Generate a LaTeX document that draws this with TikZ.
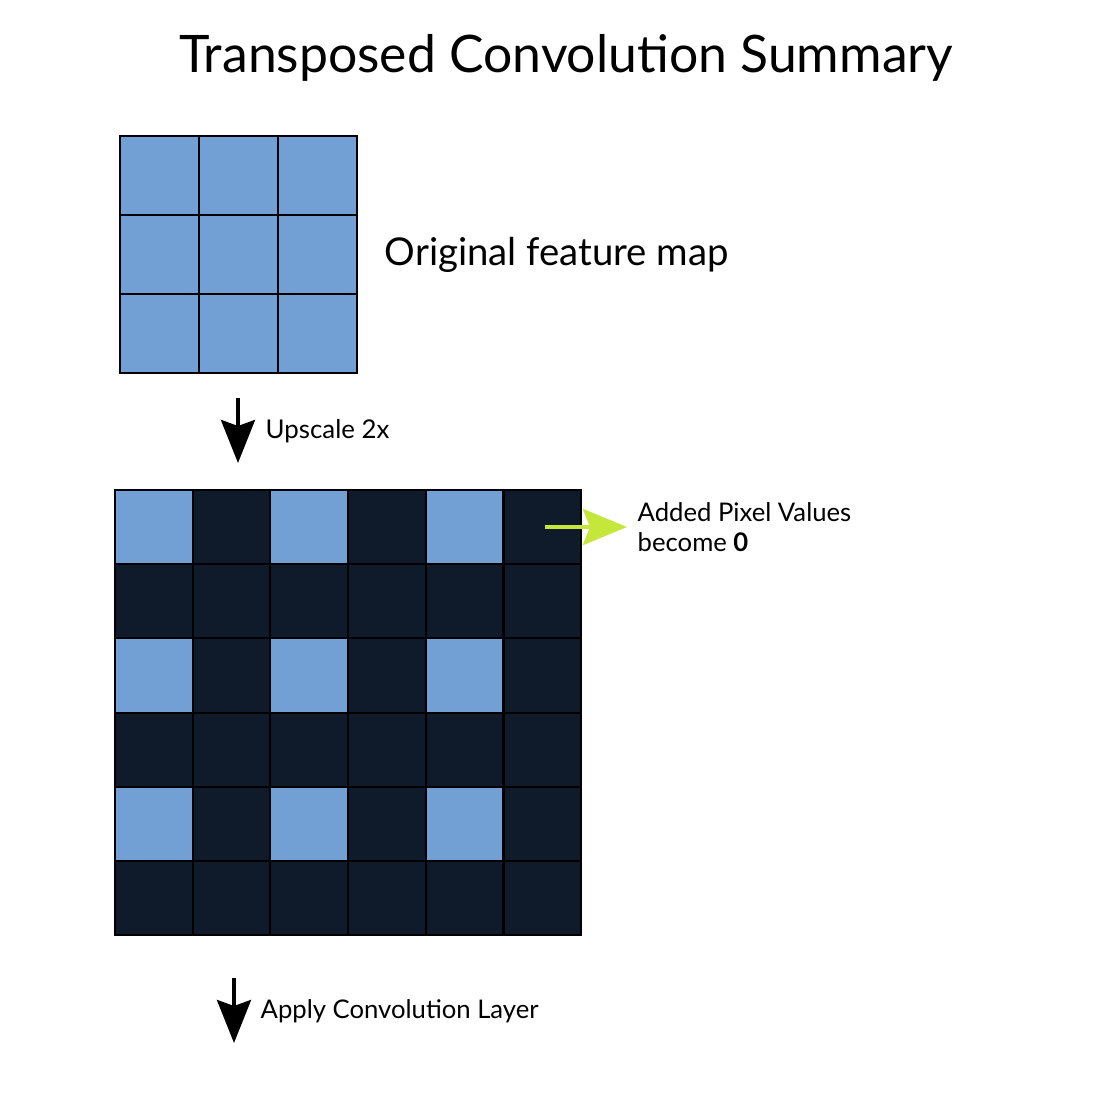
\documentclass[tikz,border=0pt]{standalone}
\usepackage{fontspec}
\setmainfont{Lato}
\usetikzlibrary{positioning,arrows.meta}
\definecolor{cellblue}{HTML}{729FD4}
\definecolor{celldark}{HTML}{0F1B2A}
\definecolor{arrowlime}{HTML}{C5E63A}
\tikzset{
	cell/.style={draw=black, line width=0.6pt, minimum width=0.79cm, minimum height=0.79cm, inner sep=0pt, outer sep=0pt},
	bigcell/.style={draw=black, line width=0.6pt, minimum width=0.777cm, minimum height=0.742cm, inner sep=0pt, outer sep=0pt},
	txt/.style={inner sep=0pt, anchor=west, align=left},
	downarrow/.style={line width=1pt, -{Stealth[length=0.43cm, width=0.34cm, inset=0.06cm]}},
	limearrow/.style={draw=arrowlime, line width=1.2pt, -{Stealth[length=0.44cm, width=0.36cm, inset=0.07cm]}}
}
\begin{document}
\begin{tikzpicture}[x=0.01cm, y=-0.01cm]
	\useasboundingbox (0,0) rectangle (1104,1104);
	% Title
	\node[inner sep=0pt, font=\fontsize{14.7}{17}\selectfont] (Title) at (566,58) {Transposed Convolution Summary};
	% Original feature map
	\foreach \r in {0,1,2}
		\foreach \c in {0,1,2}
			\node[cell, fill=cellblue] (o\r\c) at ({159.5+79*\c},{175.5+79*\r}) {};
	\node[txt, right=0.27cm of o12.east, font=\fontsize{10.9}{13}\selectfont] (Orig) {Original feature map};
	% Upscale
	\coordinate (Up1) at (238,398);
	\coordinate (Up2) at (238,463);
	\draw[downarrow] (Up1) -- (Up2);
	\node[txt, font=\fontsize{7.35}{9}\selectfont] (Upscale) at (265,431) {Upscale 2x};
	% Upscaled map
	\foreach \r in {0,...,5}
		\foreach \c in {0,...,5} {
			\pgfmathtruncatemacro\odd{mod(\r,2)+mod(\c,2)}
			\ifnum\odd=0 \def\cellcol{cellblue}\else\def\cellcol{celldark}\fi
			\node[bigcell, fill=\cellcol] (u\r\c) at ({153.85+77.7*\c},{527.1+74.2*\r}) {};
		}
	% Added pixels
	\coordinate (Lime1) at (545,527);
	\coordinate (Lime2) at (627,527);
	\draw[limearrow] (Lime1) -- (Lime2);
	\node[txt, font=\fontsize{7.3}{8.5}\selectfont] (Added) at (637,527) {Added Pixel Values\\become \textbf{0}};
	% Convolution
	\coordinate (Conv1) at (234,978);
	\coordinate (Conv2) at (234,1043);
	\draw[downarrow] (Conv1) -- (Conv2);
	\node[txt, font=\fontsize{7.3}{9}\selectfont] (Apply) at (260,1011) {Apply Convolution Layer};
\end{tikzpicture}
\end{document}
